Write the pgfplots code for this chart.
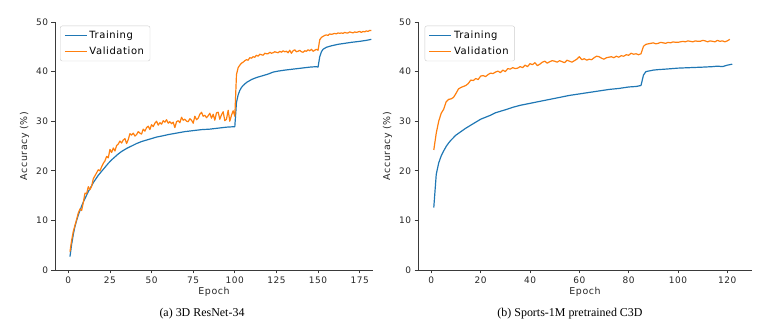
\documentclass[border=0pt]{standalone}
\usepackage{fontspec}
\setmainfont{DejaVu Sans}
\newfontfamily\lblfont{DejaVu Sans}[LetterSpace=6]
\newfontfamily\capfont{Liberation Serif}
\usepackage{pgfplots}
\pgfplotsset{compat=1.18}
\definecolor{tabblue}{HTML}{1F77B4}
\definecolor{taborange}{HTML}{FF7F0E}
\definecolor{spine}{HTML}{3A3A3A}
\pgfplotsset{myax/.style={
  scale only axis, height=248bp, ymin=0, ymax=50, ytick={0,10,...,50},
  axis x line*=bottom, axis y line*=left,
  axis line style={spine, line width=0.75pt, -},
  tick style={spine, line width=0.75pt}, tick align=outside, major tick length=3.5bp,
  ticklabel style={font=\lblfont\fontsize{9}{9}\selectfont, text=black!85},
  label style={font=\lblfont\fontsize{9.5}{10}\selectfont, text=black!85},
  xlabel=Epoch, ylabel={Accuracy (\%)},
  xlabel style={yshift=3bp},
  ylabel style={yshift=0bp},
  /pgf/number format/assume math mode=true,
  legend style={anchor=north west, draw=black!20, rounded corners=2pt,
    font=\lblfont\fontsize{10}{11}\selectfont, fill=white, inner xsep=4pt, inner ysep=3pt, row sep=3pt},
  legend cell align=left,
  legend image code/.code={\draw[#1] (0bp,0bp) -- (22bp,0bp);},
  every axis plot/.append style={line width=1.2pt, line join=round},
}}
\begin{document}
\begin{tikzpicture}
\begin{axis}[myax, at={(55bp,59bp)}, anchor=south west, width=318bp,
  xmin=-8, xmax=183, xtick={0,25,...,175},
  legend style={at={(0.016,0.985)}}]
\addplot[tabblue] coordinates {
(1,2.7)(2,5.2)(3,7.2)(4,8.8)(5,10.0)(6,11.1)(7,12.0)(8,12.9)(9,13.7)(10,14.4)
(11,15.1)(12,15.8)(13,16.4)(14,17.0)(15,17.6)(16,18.1)(17,18.6)(18,19.1)(19,19.5)(20,19.9)
(22,20.7)(24,21.5)(26,22.2)(28,22.8)(30,23.4)(32,23.9)(35,24.5)(38,25.0)(41,25.5)(44,25.9)
(47,26.2)(50,26.5)(53,26.8)(56,27.0)(60,27.3)(65,27.6)(70,27.9)(75,28.1)(80,28.3)(85,28.4)
(90,28.6)(95,28.8)(100,28.9)(101,33.8)(102,35.3)(103,36.2)(104,36.8)(105,37.2)(107,37.8)(110,38.4)
(113,38.8)(116,39.1)(120,39.5)(123,39.9)(126,40.1)(130,40.3)(135,40.5)(140,40.7)(145,40.9)(149,41.0)
(150,40.9)(151,43.0)(152,44.0)(153,44.5)(155,44.9)(158,45.2)(162,45.5)(166,45.7)(170,45.9)(175,46.1)
(179,46.3)(182,46.5)};
\addlegendentry{Training}
\addplot[taborange] coordinates {
(1,3.7)(2,6.0)(3,7.8)(4,9.0)(5,10.2)(6,11.5)(7,12.3)(8,12.0)(9,13.6)(10,15.5)
(11,15.4)(12,16.8)(13,16.2)(14,16.9)(15,18.4)(16,19.0)(17,19.6)(18,20.2)(19,20.0)(20,20.8)
(21,21.5)(22,22.0)(23,22.9)(24,22.6)(25,24.3)(26,23.7)(27,24.6)(28,24.0)(29,25.1)(30,25.4)
(31,26.0)(32,25.6)(33,26.2)(34,26.5)(35,25.5)(36,26.3)(37,27.5)(38,27.2)(39,27.6)(40,27.0)
(41,27.3)(42,27.9)(43,27.6)(44,27.4)(45,28.4)(46,28.0)(47,28.7)(48,29.0)(49,28.3)(50,29.3)
(51,28.9)(52,29.6)(53,30.0)(54,29.2)(55,29.7)(56,29.4)(57,30.1)(58,29.8)(59,30.3)(60,29.6)
(61,29.9)(62,29.5)(63,29.8)(64,28.7)(65,29.9)(66,30.1)(67,29.7)(68,30.8)(69,30.2)(70,30.4)
(71,30.0)(72,29.9)(73,30.5)(74,30.2)(75,29.6)(76,31.0)(77,30.3)(78,30.6)(79,31.4)(80,31.8)
(81,31.0)(82,31.2)(83,30.7)(84,31.1)(85,31.6)(86,30.6)(87,31.4)(88,30.2)(89,31.7)(90,31.8)
(91,30.4)(92,31.3)(93,31.9)(94,30.1)(95,30.4)(96,32.2)(97,30.0)(98,31.2)(99,32.1)(100,31.0)
(101,39.4)(102,40.8)(103,41.3)(104,41.7)(105,41.9)(106,42.2)(107,42.4)(108,42.3)(109,42.8)(110,42.7)
(111,43.0)(112,42.9)(113,43.3)(114,43.1)(115,43.5)(116,43.4)(117,43.3)(118,43.7)(119,43.6)(120,43.6)
(121,43.9)(122,43.7)(123,43.8)(124,44.0)(125,43.9)(126,43.8)(127,44.1)(128,43.9)(129,44.2)(130,44.0)
(131,44.1)(132,43.8)(133,44.3)(134,43.7)(135,44.2)(136,44.4)(137,44.0)(138,44.1)(139,44.3)(140,44.0)
(141,43.9)(142,44.2)(143,44.1)(144,44.4)(145,44.2)(146,44.5)(147,44.1)(148,44.3)(149,44.5)(150,44.3)
(151,46.4)(152,46.9)(153,47.1)(154,47.3)(155,47.4)(156,47.3)(157,47.6)(158,47.5)(159,47.6)(160,47.7)
(161,47.6)(162,47.8)(163,47.7)(164,47.8)(165,47.7)(166,47.9)(167,47.8)(168,47.8)(169,48.0)(170,47.9)
(171,47.8)(172,48.0)(173,47.9)(174,48.0)(175,48.1)(176,47.9)(177,48.1)(178,48.0)(179,48.2)(180,48.1)
(181,48.3)(182,48.3)};
\addlegendentry{Validation}
\end{axis}
\begin{axis}[myax, at={(418bp,59bp)}, anchor=south west, width=334bp,
  xmin=-5.4, xmax=130, xtick={0,20,...,120},
  legend style={at={(0.02,0.985)}}]
\addplot[tabblue] coordinates {
(1,12.6)(2,19.3)(3,21.6)(4,23.0)(5,24.0)(6,24.9)(7,25.6)(8,26.2)(9,26.7)(10,27.2)
(12,27.9)(14,28.6)(16,29.2)(18,29.8)(20,30.4)(22,30.8)(24,31.2)(26,31.7)(28,32.0)(30,32.3)
(33,32.8)(36,33.2)(40,33.6)(44,34.0)(48,34.4)(52,34.8)(56,35.2)(60,35.5)(64,35.8)(68,36.1)
(72,36.4)(76,36.6)(80,36.9)(83,37.0)(85,37.2)(86,39.3)(87,40.0)(88,40.1)(90,40.3)(92,40.4)
(95,40.5)(100,40.7)(105,40.8)(110,40.9)(114,41.0)(116,41.1)(118,41.0)(120,41.3)(122,41.5)};
\addlegendentry{Training}
\addplot[taborange] coordinates {
(1,24.2)(2,27.6)(3,30.0)(4,31.6)(5,32.4)(6,33.9)(7,34.4)(8,34.5)(9,34.8)(10,35.6)
(11,36.5)(12,36.8)(13,37.0)(14,37.2)(15,37.6)(16,38.3)(17,38.2)(18,38.6)(19,38.4)(20,39.1)
(21,39.2)(22,39.0)(23,39.4)(24,39.7)(25,39.6)(26,39.9)(27,40.1)(28,39.8)(29,40.3)(30,40.0)
(31,40.6)(32,40.5)(33,40.8)(34,40.6)(35,40.7)(36,41.0)(37,40.8)(38,41.3)(39,41.0)(40,41.6)
(41,41.4)(42,41.8)(43,41.2)(44,41.5)(45,41.9)(46,42.1)(47,41.7)(48,42.0)(49,42.2)(50,42.1)
(51,41.9)(52,42.2)(53,42.0)(54,41.8)(55,42.3)(56,42.1)(57,41.9)(58,42.2)(59,42.5)(60,43.0)
(61,42.4)(62,42.6)(63,42.3)(64,42.5)(65,42.4)(66,42.8)(67,43.1)(68,43.0)(69,42.7)(70,42.5)
(71,42.8)(72,42.9)(73,43.0)(74,42.8)(75,43.1)(76,42.9)(77,43.2)(78,43.1)(79,43.4)(80,43.3)
(81,43.7)(82,43.5)(83,43.6)(84,43.4)(85,43.6)(86,45.1)(87,45.5)(88,45.6)(89,45.7)(90,45.8)
(91,45.6)(92,45.7)(93,45.9)(94,45.8)(95,45.7)(96,45.9)(97,45.8)(98,46.0)(99,45.9)(100,45.9)
(101,46.0)(102,46.1)(103,46.0)(104,46.2)(105,46.1)(106,46.0)(107,46.2)(108,46.1)(109,46.1)(110,46.3)
(111,46.2)(112,46.0)(113,46.2)(114,46.1)(115,46.0)(116,46.3)(117,46.1)(118,46.2)(119,46.0)(120,46.2)
(121,46.5)};
\addlegendentry{Validation}
\end{axis}
\node[font=\capfont\fontsize{12}{14}\selectfont] at (202bp,15bp) {(a) 3D ResNet-34};
\node[font=\capfont\fontsize{12}{14}\selectfont] at (570bp,15bp) {(b) Sports-1M pretrained C3D};
\pgfresetboundingbox
\path (0,0) rectangle (773bp,329bp);
\end{tikzpicture}
\end{document}
